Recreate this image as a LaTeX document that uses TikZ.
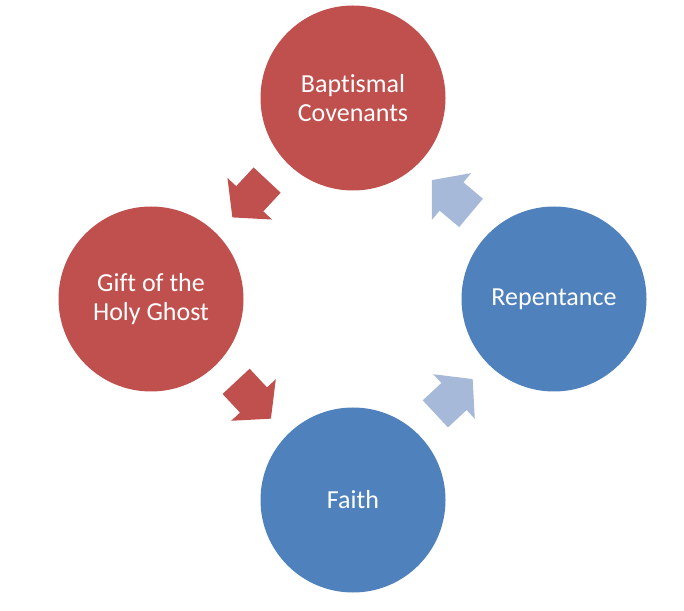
\documentclass[tikz,border=0pt]{standalone}
\usepackage{fontspec}
\setmainfont{Carlito}[Ligatures=NoCommon]
\definecolor{cred}{HTML}{C0504D}
\definecolor{cblue}{HTML}{4F81BD}
\definecolor{clight}{HTML}{A7B9D8}
\tikzset{
  x=1pt, y=1pt,
  stage/.style={circle, minimum size=185pt, inner sep=0pt, align=center,
    text=white, font=\fontsize{26}{28.5}\selectfont},
  redstage/.style={stage, fill=cred},
  bluestage/.style={stage, fill=cblue},
  blockarrow/.pic={
    \fill[pic actions] (-25.5,-18.5) -- (0,-18.5) -- (0,-30.5) -- (25.5,0)
      -- (0,30.5) -- (0,18.5) -- (-25.5,18.5) -- cycle;
  }
}
\begin{document}
\begin{tikzpicture}
\useasboundingbox (0,0) rectangle (684,610);
\node[redstage]  (bapt) at (353,512) {Baptismal\\Covenants};
\node[redstage]  (gift) at (151,311) {Gift of the\\Holy Ghost};
\node[bluestage] (rep)  at (554,311) {Repentance};
\node[bluestage] (faith) at (353,110) {Faith};
\pic[fill=cred, rotate=227]   (a1) at (249.75,411.25) {blockarrow};
\pic[fill=clight, rotate=140] (a2) at (451.5,413.5) {blockarrow};
\pic[fill=cred, rotate=-47]   (a3) at (253.5,210) {blockarrow};
\pic[fill=clight, rotate=43]  (a4) at (454,213.5) {blockarrow};
\end{tikzpicture}
\end{document}
